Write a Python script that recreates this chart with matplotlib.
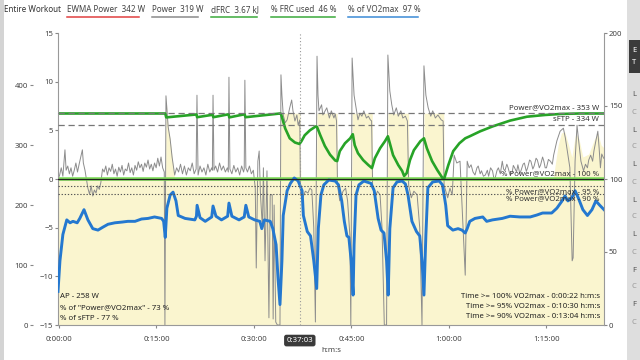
import matplotlib.pyplot as plt
from matplotlib.lines import Line2D
from matplotlib.patches import Rectangle
from matplotlib.transforms import blended_transform_factory

plt.rcParams['font.family'] = ['Noto Sans', 'DejaVu Sans']

# power, time in minutes / W  (warm-up, first sprint, sprints, intervals, cool-down)
pw_t = ([-0.15, 0.1, 0.35, 0.6, 0.92, 1.1, 1.35, 1.6, 1.85, 2.1, 2.35, 2.6, 2.85, 3.1, 3.35, 3.6,
         3.75, 4.0, 4.2, 4.45, 4.7, 4.95, 5.2, 5.45, 5.7, 5.95, 6.2, 6.45, 6.7, 6.95, 7.2, 7.45,
         7.7, 7.95, 8.2, 8.45, 8.7, 8.95, 9.2, 9.45, 9.7, 9.95, 10.2, 10.45, 10.7, 10.95, 11.2,
         11.45, 11.7, 11.95, 12.2, 12.45, 12.7, 12.95, 13.2, 13.45, 13.7, 13.95, 14.2, 14.45,
         14.7, 14.95, 15.2, 15.45, 15.7, 15.95, 16.2]
        + [16.3, 16.46, 16.8, 17.1, 17.4]
        + [17.8, 18.1, 18.4, 18.7, 19.0, 19.3, 19.6, 19.9, 20.2, 20.5, 20.8, 21.1, 21.23, 21.4,
           21.7, 22.0, 22.3, 22.6, 22.9, 23.2, 23.5, 23.6, 23.7, 23.85, 24.1, 24.4, 24.7, 25.0,
           25.3, 25.6, 25.9, 26.05, 26.15, 26.3, 26.6, 26.9, 27.2, 27.5, 27.8, 28.1, 28.4, 28.5,
           28.6, 28.75, 29.0, 29.3, 29.6, 29.9, 30.2]
        + [30.35, 30.6, 30.8, 31.0, 31.3, 31.45, 31.7, 32.0, 32.3, 32.5, 32.8, 32.95, 33.1, 33.35,
           33.6, 34.0, 34.15, 34.3, 34.5, 34.8, 35.1, 35.5, 35.8, 36.0, 36.3, 36.6, 36.8, 37.05,
           37.15, 37.5, 37.9, 38.3, 38.6, 38.9, 39.2, 39.45, 39.7, 39.85, 40.0, 40.4, 40.6, 41.2,
           41.6, 41.9, 42.3, 42.5, 42.7, 42.85, 43.2, 43.7, 44.1, 44.4, 44.75, 44.9, 45.1, 45.4,
           45.7, 46.0, 46.3, 46.6, 46.9, 47.3, 47.6, 47.9, 48.1, 48.25, 48.6, 49.0, 49.4, 49.7,
           50.05, 50.4, 50.6, 50.9, 51.2, 51.5, 51.9, 52.2, 52.6, 52.9, 53.3, 53.6, 53.8, 54.2,
           54.6, 55.1, 55.5, 55.85, 56.15, 56.45, 56.8, 57.2, 57.5, 57.9, 58.3, 58.8, 59.1, 59.25,
           59.8, 60.15, 60.5, 60.8, 61.2, 61.7, 62.5]
        + [62.8, 63.1, 63.4, 63.7, 64.0, 64.3, 64.5, 64.8, 65.0, 65.3, 65.6, 65.9, 66.1, 66.4,
           66.7, 66.9, 67.1, 67.4, 67.6, 67.9, 68.2, 68.4, 68.6, 68.9, 69.1, 69.4, 69.7, 69.9,
           70.1, 70.4, 70.6, 70.9, 71.1, 71.4, 71.6, 71.9, 72.1, 72.4, 72.6, 72.9, 73.1, 73.4,
           73.6, 73.9, 74.1, 74.4, 74.6, 74.8, 75.0, 75.3, 75.6, 75.9, 76.1]
        + [76.6, 77.1, 77.6, 77.9, 78.3, 78.6, 78.95, 79.1, 79.4, 79.7, 79.9, 80.3, 80.7, 81.0,
           81.3, 81.5, 81.8, 82.1, 82.3, 82.6, 82.9, 83.1, 83.3, 83.5, 83.8])
pw_w = ([242, 250, 262, 248, 292, 258, 265, 252, 262, 248, 258, 270, 255, 268, 280, 292,
         270, 258, 245, 228, 218, 232, 215, 225, 220, 232, 226, 238, 260, 255, 265, 250,
         262, 256, 268, 252, 260, 248, 263, 255, 266, 250, 260, 257, 270, 254, 262,
         250, 266, 258, 272, 262, 268, 256, 270, 263, 275, 260, 268, 257,
         270, 262, 278, 265, 280, 262, 255]
        + [0, 382, 330, 310, 280]
        + [250, 262, 255, 268, 252, 265, 250, 262, 257, 270, 252, 260, 383, 250,
           265, 255, 262, 250, 268, 255, 262, 258, 383, 258, 265, 255, 270, 258,
           265, 255, 262, 255, 413, 260, 252, 266, 255, 262, 250, 265, 255, 260,
           408, 262, 255, 265, 252, 258, 228]
        + [95, 273, 290, 217, 162, 262, 107, 257, 12, 217, 217, 10, 200, 5,
           0, 0, 417, 383, 350, 337, 342, 362, 375, 357, 340, 350, 333, 342,
           217, 212, 223, 220, 228, 225, 162, 5, 448, 383, 357, 367, 350, 362,
           345, 357, 345, 352, 340, 233, 207, 223, 228, 207, 150, 0, 445, 383,
           362, 342, 353, 348, 357, 345, 348, 342, 340, 233, 212, 223, 217, 162,
           0, 0, 450, 390, 367, 350, 362, 348, 357, 345, 348, 340, 233, 212,
           223, 217, 162, 0, 432, 383, 362, 348, 357, 345, 350, 342, 340, 233,
           212, 228, 217, 283, 270, 273, 83]
        + [273, 262, 267, 255, 250, 262, 265, 252, 257, 248, 250, 258, 248, 262,
           257, 245, 245, 258, 262, 252, 273, 260, 257, 268, 262, 250, 253, 266,
           262, 255, 267, 252, 258, 268, 270, 256, 262, 275, 273, 260, 265, 278,
           275, 262, 267, 280, 273, 262, 262, 276, 273, 268, 283]
        + [307, 323, 328, 312, 283, 262, 107, 112, 273, 333, 312, 273, 257, 268,
           262, 275, 283, 273, 290, 307, 323, 295, 262, 285, 278])

# EWMA power, W (yellow area)
ew_t = [-0.15, 16.4, 16.46, 16.8, 17.1, 17.4, 17.8, 34.0, 34.15, 37.1, 37.2, 39.6, 39.7, 42.8,
        42.85, 45.05, 45.1, 48.2, 48.25, 50.55, 50.6, 53.8, 53.85, 56.1, 56.15, 59.2, 59.3, 76.0,
        76.8, 77.3, 77.8, 78.4, 78.9, 79.5, 80.0, 80.6, 81.5, 82.4, 82.9, 83.4, 83.85]
ew_w = [242, 242, 380, 330, 310, 280, 242, 242, 353, 353, 242, 242, 353, 353,
        242, 242, 353, 353, 242, 242, 353, 353, 242, 242, 353, 353, 242, 242,
        300, 320, 322, 300, 280, 320, 310, 280, 285, 310, 320, 300, 295]

# dFRC, kJ
frc_t = [-0.15, 16.35, 16.5, 21.15, 21.25, 23.65, 23.75, 26.1, 26.2, 28.55, 28.7, 34.0, 34.15,
         34.8, 35.5, 36.3, 37.0, 37.3, 37.8, 38.6, 39.5, 39.7, 40.2, 40.9, 41.7, 42.5, 42.8,
         43.2, 44.0, 44.8, 45.2, 45.5, 46.0, 46.8, 47.6, 48.15, 48.6, 49.4, 50.15, 50.6, 50.9,
         51.4, 52.2, 52.8, 53.1, 53.5, 54.0, 54.6, 55.6, 56.15, 56.6, 57.4, 58.2, 59.0, 59.25,
         59.9, 60.65, 61.6, 62.5, 63.2, 64.8, 66.7, 69.4, 72.0, 74.8, 77.1, 80.1, 83.85]
frc_kj = [6.73, 6.73, 6.33, 6.63, 6.35, 6.6, 6.35, 6.65, 6.33, 6.65, 6.35, 6.73, 6.7,
          5.2, 4.18, 3.75, 3.6, 3.88, 4.49, 5.0, 5.4, 5.35, 4.5, 3.4, 2.5, 1.9, 1.84,
          2.86, 3.67, 4.18, 4.6, 3.47, 2.65, 1.94, 1.43, 1.12, 2.14, 3.16, 3.88, 4.39, 3.67,
          2.45, 1.43, 0.82, 0.31, 0.61, 1.94, 2.96, 3.88, 4.18, 3.16, 1.84, 0.92, 0.1, 0.0,
          1.43, 2.86, 3.67, 4.18, 4.39, 4.9, 5.4, 6.0, 6.4, 6.58, 6.68, 6.73, 6.73]

# % of VO2max
vo_t = [-0.15, 0.15, 0.6, 1.2, 1.7, 2.15, 2.8, 3.2, 3.85, 4.45, 5.2, 6.0, 6.75, 7.55, 8.6, 9.7,
        10.6, 11.7, 12.7, 13.7, 14.7, 15.8, 16.1, 16.35, 16.6, 17.1, 17.55, 18.0, 18.35, 19.4,
        20.9, 21.15, 21.25, 21.7, 22.5, 23.5, 23.7, 24.15, 25.0, 25.95, 26.15, 26.6, 27.7, 28.5,
        28.75, 29.2, 30.1, 30.9, 31.2, 31.6, 32.5, 32.9, 33.4, 33.7, 34.0, 34.3, 34.5, 35.1,
        35.6, 36.2, 36.8, 37.4, 37.6, 38.2, 38.7, 39.2, 39.65, 39.9, 40.3, 40.75, 41.5, 42.5,
        43.0, 43.5, 43.9, 44.3, 44.6, 44.95, 45.25, 45.4, 45.7, 46.15, 46.9, 48.0, 48.5, 49.1,
        49.55, 50.0, 50.4, 50.65, 50.9, 51.4, 52.0, 52.8, 53.3, 53.7, 54.3, 55.0, 55.5, 55.85,
        56.15, 56.45, 56.75, 57.5, 58.5, 59.0, 59.5, 59.8, 60.6, 61.4, 62.0, 62.5, 62.8, 63.2,
        64.0, 65.2, 65.8, 66.7, 68.2, 69.4, 70.9, 72.5, 73.5, 74.4, 75.8, 76.6, 77.4, 77.85,
        78.3, 78.9, 79.4, 79.9, 80.6, 81.3, 82.0, 82.6, 83.2, 83.85]
vo_pct = [23, 44, 62, 72, 70, 71, 70, 73, 79, 72, 66, 65, 67, 69, 70, 70.5,
          71, 71, 72.6, 73, 74, 73, 71, 60, 80, 89, 91, 85, 75, 73,
          72, 74.5, 82, 73.5, 71, 74, 81.5, 74.5, 72, 74.5, 83.5, 74.5, 72, 74,
          82, 74, 72, 71, 66, 72, 71, 66, 55, 32, 14, 44, 75, 92,
          97, 100.7, 98.6, 92, 75, 64, 61, 44, 25, 66, 89, 96, 99.3, 98.6,
          96, 85, 71, 61, 60, 44, 20.5, 55, 89, 96, 98.6, 97, 92, 73,
          65, 63, 44, 20.5, 66, 94, 98, 98.6, 96.6, 89, 71, 64, 61, 44,
          20.5, 62, 94, 98, 98.6, 96, 82, 68, 65, 66, 65, 63, 66, 71,
          73, 74, 71, 72, 73, 74.5, 74, 74, 75.3, 76.7, 76.7, 80, 85, 88.4,
          85, 87, 92, 87, 79, 75, 79, 85, 82, 79]

p_vo2max = 353
sftp = 334
pct_lines = [100, 95, 90]
cursor_t = 37.05
cursor_lab = "0:37:03"
xt = [0, 15, 30, 45, 60, 75]
xt_lab = ["0:00:00", "0:15:00", "0:30:00", "0:45:00", "1:00:00", "1:15:00"]
legend_txt = ["EWMA Power  342 W", "Power  319 W", "dFRC  3.67 kJ", "% FRC used  46 %", "% of VO2max  97 %"]
legend_col = ["#e04040", "#8a8a8a", "#3aaa3a", "#3aaa3a", "#3a8ad6"]
stats_left = ["AP - 258 W", '% of "Power@VO2max" - 73 %', "% of sFTP - 77 %"]
stats_right = ["Time >= 100% VO2max - 0:00:22 h:m:s",
               "Time >= 95% VO2max - 0:10:30 h:m:s",
               "Time >= 90% VO2max - 0:13:04 h:m:s"]

W, H = 640, 360
fig = plt.figure(figsize=(6.4, 3.6), dpi=100)
fig.patch.set_facecolor("white")

def fx(x):
    return x / W

def fy(y):
    return 1 - y / H

fs = 5.6
tc = "#444444"
ax = fig.add_axes([fx(58), fy(325), fx(604) - fx(58), fy(33) - fy(325)])
ax.patch.set_visible(False)
ax.set_xlim(-0.15, 83.85)
ax.set_ylim(0, 486.7)
ax.fill_between(ew_t, 0, ew_w, color="#faf5cf", lw=0)
ax.plot(pw_t, pw_w, color="#8c8c8c", lw=0.7)
ax.spines["left"].set_position(("outward", 18))
ax.spines["left"].set_visible(False)
ax.spines["top"].set_visible(False)
ax.spines["right"].set_visible(False)
ax.spines["bottom"].set_color("#999999")
ax.set_yticks([0, 100, 200, 300, 400])
ax.tick_params(axis="y", labelsize=fs, colors="#888888", labelcolor=tc, length=2.5, pad=1)
ax.set_xticks(xt, xt_lab)
ax.tick_params(axis="x", labelsize=fs, colors="#888888", labelcolor=tc, length=2.5, pad=5.5)
ax.set_xlabel("h:m:s", fontsize=fs, color=tc, labelpad=2.5)

axf = ax.twinx()
axf.patch.set_visible(False)
axf.set_ylim(-15, 15)
axf.yaxis.tick_left()
for s in ["top", "right", "bottom"]:
    axf.spines[s].set_visible(False)
axf.spines["left"].set_visible(True)
axf.spines["left"].set_color("#999999")
axf.set_yticks([-15, -10, -5, 0, 5, 10, 15])
axf.tick_params(axis="y", labelsize=fs, colors="#888888", labelcolor=tc, length=2.5, pad=1)
axf.axhline(0, color="#7fdb5a", lw=2.6)
axf.plot(frc_t, frc_kj, color="#27a327", lw=1.9)

axr = ax.twinx()
axr.patch.set_visible(False)
axr.set_ylim(0, 200)
for s in ["top", "left", "bottom"]:
    axr.spines[s].set_visible(False)
axr.spines["right"].set_color("#999999")
axr.set_yticks([0, 50, 100, 150, 200])
axr.tick_params(axis="y", labelsize=fs, colors="#888888", labelcolor=tc, length=2.5, pad=1)
axr.plot(vo_t, vo_pct, color="#2478d0", lw=2.1)
axr.axhline(pct_lines[0], color="#222222", lw=0.9)
for p in pct_lines[1:]:
    axr.axhline(p, color="#555555", lw=0.8, ls=(0, (1.2, 1.6)))
axr.axvline(cursor_t, color="#999999", lw=0.8, ls=(0, (1, 2)))

# reference lines in power units, drawn on top
trp = blended_transform_factory(axr.transAxes, ax.transData)
trr = blended_transform_factory(axr.transAxes, axr.transData)
for v in [p_vo2max, sftp]:
    axr.add_line(Line2D([0, 1], [v, v], transform=trp, color="#777777", lw=0.9, ls=(0, (5, 3))))
axr.text(0.991, p_vo2max + 3, "Power@VO2max - %d W" % p_vo2max, transform=trp, ha="right",
         va="bottom", fontsize=fs, color="#333333")
axr.text(0.991, sftp + 2, "sFTP - %d W" % sftp, transform=trp, ha="right",
         va="bottom", fontsize=fs, color="#333333")
axr.text(0.991, pct_lines[0] + 1.5, "%% Power@VO2max - %d %%" % pct_lines[0], ha="right", va="bottom",
         transform=trr, fontsize=fs, color="#333333")
for p in pct_lines[1:]:
    axr.text(0.991, p - 1.2, "%% Power@VO2max - %d %%" % p, ha="right", va="top",
             transform=trr, fontsize=fs, color="#333333")

ax.annotate(cursor_lab, xy=(cursor_t, 0), xycoords=("data", "axes fraction"), xytext=(0, -11.2),
            textcoords="offset points", ha="center", va="center", fontsize=fs, color="white",
            bbox=dict(boxstyle="round,pad=0.3", fc="#3a3a3a", ec="none"), annotation_clip=False)

for i, s in enumerate(stats_left):
    fig.text(fx(60), fy(297 + 10.5 * i), s, ha="left", va="center", fontsize=fs, color="#222222")
for i, s in enumerate(stats_right):
    fig.text(fx(600), fy(297 + 10 * i), s, ha="right", va="center", fontsize=fs, color="#222222")

# header row
fig.text(fx(4), fy(10), "Entire Workout", ha="left", va="center", fontsize=5.8, color="#333333")
lx0 = [67, 152, 211, 271, 348]
lx1 = [139, 198, 257, 335, 418]
for s, c, a, b in zip(legend_txt, legend_col, lx0, lx1):
    fig.text(fx(a), fy(10), s, ha="left", va="center", fontsize=5.8, color="#444444")
    fig.add_artist(Line2D([fx(a), fx(b)], [fy(16.5), fy(16.5)], color=c, lw=1.1))

# window chrome
fig.add_artist(Rectangle((0, 0), fx(4), 1, fc="#d4d4d4", ec="none"))
fig.add_artist(Rectangle((fx(627), 0), 1 - fx(627), 1, fc="#dedede", ec="none"))
fig.add_artist(Rectangle((fx(629), fy(73)), 1 - fx(629), (73 - 40) / H, fc="#3b3b3b", ec="none"))
fig.text(fx(632), fy(50), "E", fontsize=5.5, color="white", va="center")
fig.text(fx(632), fy(63), "T", fontsize=5.5, color="white", va="center")
for i, ch in enumerate(["L", "L", "L", "L", "L", "F", "F"]):
    fig.text(fx(632), fy(95 + 35 * i), ch, fontsize=5.5, color="#555555", va="center")
    fig.text(fx(632), fy(112 + 35 * i), "C", fontsize=5.5, color="#999999", va="center")

fig.savefig("out.png", dpi=100)
